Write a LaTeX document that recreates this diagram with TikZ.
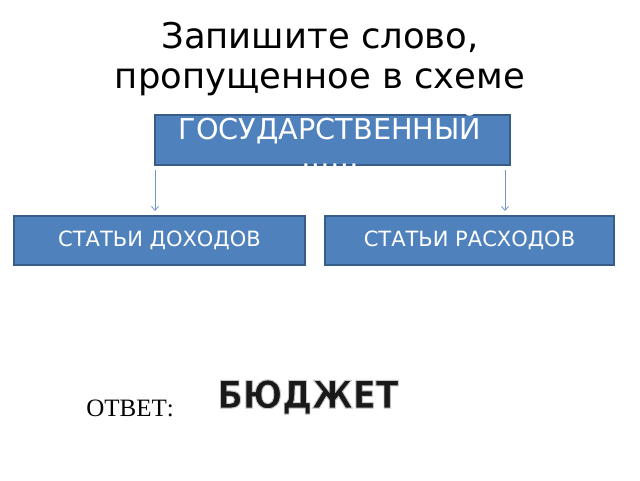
\documentclass[tikz,border=0pt]{standalone}
\usepackage{fontspec}
\setmainfont{DejaVu Sans}
\newfontfamily\serifru{Liberation Serif}
\usetikzlibrary{arrows.meta}
\definecolor{boxfill}{HTML}{4F81BD}
\definecolor{boxline}{HTML}{385D8A}
\definecolor{arrowc}{HTML}{6F98CC}
\tikzset{
  px/.style={x=1pt,y=-1pt},
  bluebox/.style={draw=boxline, line width=1.2pt, fill=boxfill, minimum height=49pt, inner sep=0pt, text=white},
  thinarrow/.style={draw=arrowc, line width=0.8pt, -{Straight Barb[length=4pt,width=7pt]}},
}
\begin{document}
\begin{tikzpicture}[px]
\useasboundingbox (0,0) rectangle (640,480);
\fill[white] (0,0) rectangle (640,480);
% title
\node (title) at (320,59) [align=center, font=\fontsize{35.4}{40}\selectfont] {Запишите слово,\\пропущенное в схеме};
% boxes
\node (top) [bluebox, minimum width=355pt, minimum height=50pt] at (332.5,140) {};
\node (toptext) at (330,128) [text=white, font=\fontsize{28.7}{30}\selectfont] {ГОСУДАРСТВЕННЫЙ};
\node (dots) at (330,166) [text=white, font=\fontsize{28.7}{30}\selectfont] {……};
\node (left) [bluebox, minimum width=291pt] at (159.5,240.5) {\fontsize{21}{24}\selectfont СТАТЬИ ДОХОДОВ};
\node (right) [bluebox, minimum width=289pt] at (469.5,240.5) {\fontsize{21}{24}\selectfont СТАТЬИ РАСХОДОВ};
% arrows
\coordinate (la) at (155,170);
\coordinate (ra) at (505,170);
\coordinate (lb) at (155,211);
\coordinate (rb) at (505,211);
\draw[thinarrow] (la) -- (lb);
\draw[thinarrow] (ra) -- (rb);
% answer
\node (otvet) at (130,408) [font=\serifru\fontsize{25}{28}\selectfont] {ОТВЕТ:};
\node (budget) at (308,397) [text=black!90, font=\bfseries\fontsize{38}{42}\selectfont] {\scalebox{0.88}[1]{\special{pdf:code 2 Tr 1.0 w 0.78 G}БЮДЖЕТ\special{pdf:code 0 Tr}}};
\end{tikzpicture}
\end{document}
